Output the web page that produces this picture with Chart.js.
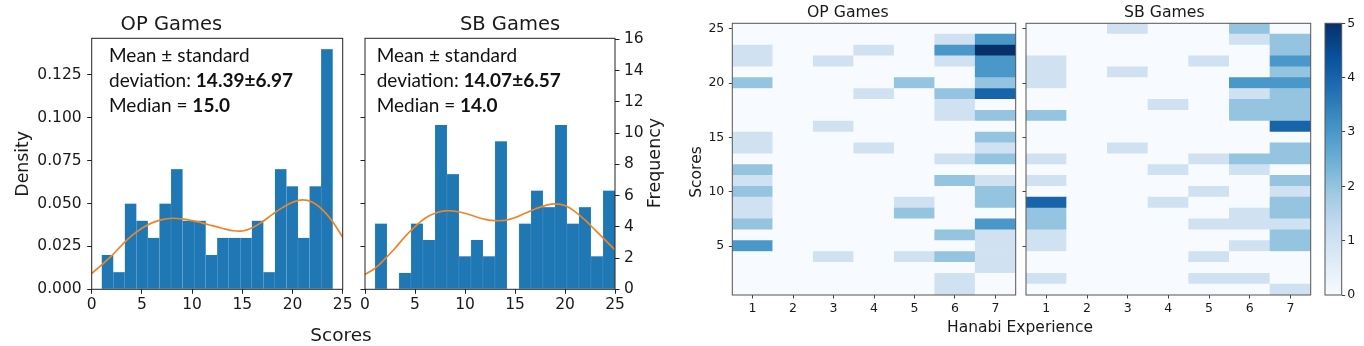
<!DOCTYPE html>
<html>
<head>
<meta charset="utf-8">
<script src="https://cdn.jsdelivr.net/npm/chart.js@4.4.1/dist/chart.umd.min.js"></script>
<style>
  html, body { margin: 0; padding: 0; background: #fff; }
  #fig { position: relative; width: 1364px; height: 346px; overflow: hidden; }
  #fig canvas { position: absolute; top: 0; }
  .lbl { position: absolute; font-family: "DejaVu Sans"; color: #1a1a1a; white-space: nowrap;
         line-height: 1; transform: translate(-50%, -50%); }
  .rot { transform: translate(-50%, -50%) rotate(-90deg); }
</style>
</head>
<body>
<div id="fig">
  <canvas id="opHist" width="360" height="346" style="left:0px"></canvas>
  <canvas id="sbHist" width="330" height="346" style="left:345px"></canvas>
  <canvas id="opHeat" width="345" height="346" style="left:680px"></canvas>
  <canvas id="sbHeat" width="300" height="346" style="left:1018px"></canvas>
  <canvas id="cbar" width="50" height="346" style="left:1315px"></canvas>
  <div class="lbl" style="left:341px; top:335px; font-size:18.5px;">Scores</div>
  <div class="lbl rot" style="left:655px; top:163px; font-size:17.5px;">Frequency</div>
  <div class="lbl rot" style="left:697px; top:172px; font-size:15.5px;">Scores</div>
  <div class="lbl" style="left:1020px; top:328px; font-size:15.5px;">Hanabi Experience</div>
</div>
<script>
// histogram data (counts per bin, 87 games each)
const nGames = 87;
const opEdges = [1, 2.15, 3.3, 4.45, 5.6, 6.75, 7.9, 9.05, 10.2, 11.35, 12.5, 13.65, 14.8, 15.95, 17.1, 18.25, 19.4, 20.55, 21.7, 22.85, 24];
const opCounts = [2, 1, 5, 4, 3, 5, 7, 4, 4, 2, 3, 3, 3, 4, 1, 7, 6, 3, 6, 14];
const sbEdges = [1, 2.2, 3.4, 4.6, 5.8, 7, 8.2, 9.4, 10.6, 11.8, 13, 14.2, 15.4, 16.6, 17.8, 19, 20.2, 21.4, 22.6, 23.8, 25];
const sbCounts = [4, 0, 1, 4, 3, 10, 7, 2, 3, 2, 9, 0, 4, 6, 5, 10, 4, 5, 2, 6];

// kde curves
const kdeX = [0, 1, 2, 3, 4, 5, 6, 7, 8, 9, 10, 11, 12, 13, 14, 15, 16, 17, 18, 19, 20, 21, 22, 23, 24, 25];
const opKde = [0.0093, 0.0142, 0.0196, 0.0258, 0.0313, 0.0356, 0.0387, 0.0406, 0.0414, 0.041, 0.040, 0.0387, 0.0371,
               0.0356, 0.0342, 0.034, 0.0359, 0.0394, 0.0437, 0.0476, 0.0507, 0.0521, 0.0507, 0.0463, 0.0394, 0.0303];
const sbKde = [0.0087, 0.0122, 0.0177, 0.0239, 0.0307, 0.0365, 0.0414, 0.0443, 0.0457, 0.0455, 0.0443, 0.0424, 0.0408,
               0.040, 0.0402, 0.0418, 0.0443, 0.0468, 0.0488, 0.0498, 0.0488, 0.0453, 0.0404, 0.0346, 0.0288, 0.0229];

const scoreTicks = [0, 5, 10, 15, 20, 25];
const densityTicks = [0, 0.025, 0.05, 0.075, 0.1, 0.125];
const freqTicks = [0, 2, 4, 6, 8, 10, 12, 14, 16];

// heatmap data: rows = score 1..25, columns = hanabi experience 1..7
const experience = ['1', '2', '3', '4', '5', '6', '7'];
const scores = [1, 2, 3, 4, 5, 6, 7, 8, 9, 10, 11, 12, 13, 14, 15, 16, 17, 18, 19, 20, 21, 22, 23, 24, 25];
const opMatrix = [
  [0,0,0,0,0,1,0], [0,0,0,0,0,1,0], [0,0,0,0,0,0,1], [0,0,1,0,1,2,1], [3,0,0,0,0,0,1],
  [0,0,0,0,0,2,1], [2,0,0,0,0,0,3], [1,0,0,0,2,0,0], [1,0,0,0,1,0,2], [2,0,0,0,0,0,2],
  [1,0,0,0,0,2,1], [2,0,0,0,0,0,0], [0,0,0,0,0,1,2], [1,0,0,1,0,0,1], [1,0,0,0,0,0,2],
  [0,0,1,0,0,0,0], [0,0,0,0,0,1,2], [0,0,0,0,0,1,0], [0,0,0,1,0,2,4], [2,0,0,0,2,0,2],
  [0,0,0,0,0,0,3], [1,0,1,0,0,1,3], [1,0,0,1,0,3,5], [0,0,0,0,0,1,3], [0,0,0,0,0,0,0]
];
const sbMatrix = [
  [0,0,0,0,0,0,1], [1,0,0,0,1,1,0], [0,0,0,0,0,0,0], [0,0,0,0,1,0,0], [1,0,0,0,0,1,2],
  [1,0,0,0,0,0,2], [2,0,0,0,1,1,1], [2,0,0,0,0,1,2], [4,0,0,1,0,0,2], [0,0,0,0,1,0,1],
  [1,0,0,0,0,0,2], [0,0,0,1,0,1,0], [1,0,0,0,1,2,2], [0,0,1,0,0,0,2], [0,0,0,0,0,0,0],
  [0,0,0,0,0,0,4], [2,0,0,0,0,2,2], [0,0,0,1,0,2,2], [0,0,0,0,0,1,2], [1,0,0,0,0,3,3],
  [1,0,1,0,0,0,2], [1,0,0,0,1,0,3], [0,0,0,0,0,0,2], [0,0,0,0,0,1,2], [0,0,1,0,0,2,0]
];
const heatYTicks = [5, 10, 15, 20, 25];
const cbarTicks = [0, 1, 2, 3, 4, 5];
const cmax = 5;

// matplotlib "Blues"
const bluesStops = ['#f7fbff', '#deebf7', '#c6dbef', '#9ecae1', '#6baed6', '#4292c6', '#2171b5', '#08519c', '#08306b'];
function hexRgb(h) { return [1, 3, 5].map(i => parseInt(h.slice(i, i + 2), 16)); }
function blues(t) {
  t = Math.max(0, Math.min(1, t));
  const p = t * (bluesStops.length - 1);
  const i = Math.min(Math.floor(p), bluesStops.length - 2);
  const f = p - i;
  const a = hexRgb(bluesStops[i]), b = hexRgb(bluesStops[i + 1]);
  const c = a.map((v, k) => Math.round(v + (b[k] - v) * f));
  return `rgb(${c[0]}, ${c[1]}, ${c[2]})`;
}

Chart.defaults.font.family = 'DejaVu Sans';
Chart.defaults.color = '#1a1a1a';
Chart.defaults.animation = false;
Chart.defaults.plugins.legend.display = false;
Chart.defaults.plugins.tooltip.enabled = false;

// box around the plot area, like matplotlib spines
const framePlugin = {
  id: 'frame',
  afterDatasetsDraw(chart, args, opts) {
    const a = chart.chartArea, ctx = chart.ctx;
    ctx.save();
    ctx.strokeStyle = opts.color || '#222';
    ctx.lineWidth = 1;
    ctx.strokeRect(a.left, a.top, a.right - a.left, a.bottom - a.top);
    ctx.restore();
  }
};

// text box with bold parts
const notePlugin = {
  id: 'note',
  afterDraw(chart, args, opts) {
    if (!opts.lines) return;
    const a = chart.chartArea, ctx = chart.ctx;
    ctx.save();
    ctx.fillStyle = '#111';
    ctx.textBaseline = 'alphabetic';
    opts.lines.forEach((line, i) => {
      let x = a.left + opts.dx;
      const y = a.top + opts.dy + i * opts.gap;
      line.forEach(seg => {
        ctx.font = (seg.b ? 'bold ' : '') + opts.size + 'px Lato';
        ctx.fillText(seg.t, x, y);
        x += ctx.measureText(seg.t).width;
      });
    });
    ctx.restore();
  }
};

const setTicks = vals => scale => { scale.ticks = vals.map(v => ({ value: v })); };
const binCenters = edges => edges.slice(0, -1).map((e, i) => (e + edges[i + 1]) / 2);
const densities = (edges, counts) => counts.map((c, i) => c / (nGames * (edges[i + 1] - edges[i])));

function histData(edges, counts, kde) {
  const xs = binCenters(edges), ys = densities(edges, counts);
  return {
    datasets: [
      {
        type: 'bar',
        data: xs.map((x, i) => ({ x: x, y: ys[i] })),
        backgroundColor: '#1f77b4',
        borderColor: 'rgba(120, 180, 225, 0.6)',
        borderWidth: 0.4,
        barPercentage: 1,
        categoryPercentage: 1,
        yAxisID: 'y',
        order: 1
      },
      {
        type: 'line',
        data: kdeX.map((x, i) => ({ x: x, y: kde[i] })),
        borderColor: '#ee8627',
        borderWidth: 1.7,
        pointRadius: 0,
        tension: 0.4,
        yAxisID: 'y',
        order: 0
      }
    ]
  };
}

const tickGrid = { drawOnChartArea: false, offset: false, tickLength: 4.5, color: '#222' };
const histX = {
  type: 'linear', min: 0, max: 25, offset: false,
  afterBuildTicks: setTicks(scoreTicks),
  ticks: { font: { size: 15.5 }, padding: 1.5, maxRotation: 0 },
  grid: tickGrid, border: { display: false },
  afterFit: s => { s.height = 56.7; }
};

new Chart(document.getElementById('opHist'), {
  type: 'bar',
  data: histData(opEdges, opCounts, opKde),
  plugins: [framePlugin, notePlugin],
  options: {
    responsive: false,
    devicePixelRatio: 1,
    layout: { padding: { left: 0, right: 17.3, top: 0, bottom: 0 } },
    plugins: {
      title: { display: true, text: 'OP Games', color: '#1a1a1a', font: { size: 19.5, weight: 'normal' }, padding: { top: 13.3, bottom: 1.6 } },
      frame: { color: '#222' },
      note: {
        dx: 17.3, dy: 23.4, gap: 25, size: 19,
        lines: [
          [{ t: 'Mean ± standard' }],
          [{ t: 'deviation: ' }, { t: '14.39±6.97', b: true }],
          [{ t: 'Median = ' }, { t: '15.0', b: true }]
        ]
      }
    },
    scales: {
      x: histX,
      y: {
        min: 0, max: 0.1463,
        afterBuildTicks: setTicks(densityTicks),
        ticks: { font: { size: 15.5 }, padding: 5.5, callback: v => v.toFixed(3) },
        grid: tickGrid, border: { display: false },
        title: { display: true, text: 'Density', color: '#1a1a1a', font: { size: 17.3 }, padding: { top: 12.9, bottom: 0 } },
        afterFit: s => { s.width = 91.7; }
      }
    }
  }
});

new Chart(document.getElementById('sbHist'), {
  type: 'bar',
  data: histData(sbEdges, sbCounts, sbKde),
  plugins: [framePlugin, notePlugin],
  options: {
    responsive: false,
    devicePixelRatio: 1,
    layout: { padding: 0 },
    plugins: {
      title: { display: true, text: 'SB Games', color: '#1a1a1a', font: { size: 19.5, weight: 'normal' }, padding: { top: 13.3, bottom: 1.6 } },
      frame: { color: '#222' },
      note: {
        dx: 11.7, dy: 23.4, gap: 25, size: 19,
        lines: [
          [{ t: 'Mean ± standard' }],
          [{ t: 'deviation: ' }, { t: '14.07±6.57', b: true }],
          [{ t: 'Median = ' }, { t: '14.0', b: true }]
        ]
      }
    },
    scales: {
      x: histX,
      y: {
        position: 'left', min: 0, max: 0.1463,
        afterBuildTicks: setTicks(densityTicks),
        ticks: { callback: () => '' },
        grid: tickGrid, border: { display: false },
        afterFit: s => { s.width = 20; }
      },
      y2: {
        position: 'right', min: 0, max: 16.06,
        afterBuildTicks: setTicks(freqTicks),
        ticks: { font: { size: 15.5 }, padding: 4.5 },
        grid: tickGrid, border: { display: false },
        afterFit: s => { s.width = 60; }
      }
    }
  }
});

function heatData(matrix) {
  return {
    labels: experience,
    datasets: matrix.map((row, r) => ({
      data: row.map(() => [scores[r] - 0.5, scores[r] + 0.5]),
      backgroundColor: row.map(v => blues(v / cmax)),
      borderWidth: 0,
      barPercentage: 1,
      categoryPercentage: 1,
      grouped: false
    }))
  };
}

const heatGrid = { drawOnChartArea: false, offset: false, tickLength: 3.5, color: '#444' };
function heatOptions(title, yWidth, padRight, showY) {
  return {
    responsive: false,
    devicePixelRatio: 1,
    layout: { padding: { left: 0, right: padRight, top: 0, bottom: 0 } },
    plugins: {
      title: { display: true, text: title, color: '#1a1a1a', font: { size: 15.7, weight: 'normal' }, padding: { top: 3.4, bottom: 1.06 } },
      frame: { color: '#555' }
    },
    scales: {
      x: {
        type: 'category', offset: true,
        ticks: { font: { size: 12.5 }, padding: 2.5, maxRotation: 0 },
        grid: heatGrid, border: { display: false },
        afterFit: s => { s.height = 51; }
      },
      y: {
        min: 0.5, max: 25.5,
        afterBuildTicks: setTicks(heatYTicks),
        ticks: showY ? { font: { size: 12.5 }, padding: 4.5 } : { callback: () => '' },
        grid: heatGrid, border: { display: false },
        afterFit: s => { s.width = yWidth; }
      }
    }
  };
}

new Chart(document.getElementById('opHeat'), {
  type: 'bar',
  data: heatData(opMatrix),
  plugins: [framePlugin],
  options: heatOptions('OP Games', 52.3, 9.3, true)
});

new Chart(document.getElementById('sbHeat'), {
  type: 'bar',
  data: heatData(sbMatrix),
  plugins: [framePlugin],
  options: heatOptions('SB Games', 8, 7.3, false)
});

// colorbar
new Chart(document.getElementById('cbar'), {
  type: 'bar',
  data: {
    labels: [''],
    datasets: [{
      data: [[cbarTicks[0], cbarTicks[cbarTicks.length - 1]]],
      backgroundColor: c => {
        const a = c.chart.chartArea;
        if (!a) return blues(0.5);
        const g = c.chart.ctx.createLinearGradient(0, a.bottom, 0, a.top);
        bluesStops.forEach((col, i) => g.addColorStop(i / (bluesStops.length - 1), col));
        return g;
      },
      borderWidth: 0,
      barPercentage: 1,
      categoryPercentage: 1
    }]
  },
  plugins: [framePlugin],
  options: {
    responsive: false,
    devicePixelRatio: 1,
    layout: { padding: { left: 10, right: 0, top: 23.3, bottom: 51 } },
    plugins: { frame: { color: '#555' } },
    scales: {
      x: { display: false },
      y: {
        position: 'right', min: 0, max: cmax,
        afterBuildTicks: setTicks(cbarTicks),
        ticks: { font: { size: 12.5 }, padding: 2 },
        grid: heatGrid, border: { display: false },
        afterFit: s => { s.width = 23.3; }
      }
    }
  }
});
</script>
</body>
</html>
